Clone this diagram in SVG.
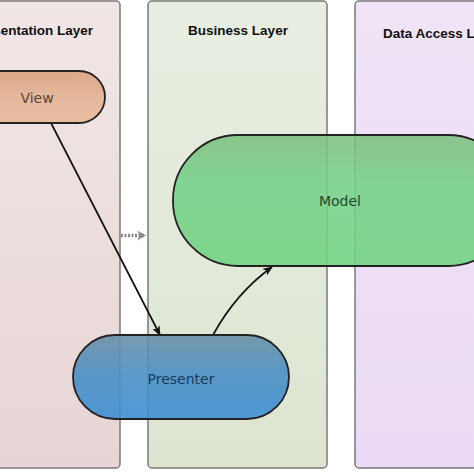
<svg xmlns="http://www.w3.org/2000/svg" width="474" height="474" viewBox="0 0 474 474">
<style>
.panel{stroke:#7a7a7a;stroke-width:1.5}
.title{font-family:"Liberation Sans",Arial,sans-serif;font-weight:bold;font-size:13.5px;fill:#111}
.lbl{font-family:"DejaVu Sans",Verdana,sans-serif;font-size:14px;text-anchor:middle}
.node{stroke:#222;stroke-width:1.8}
.conn{fill:none;stroke:#111;stroke-width:1.7}
</style>
<defs>
<linearGradient id="gP" x1="0" y1="0" x2="0" y2="1"><stop offset="0" stop-color="#f1e6e6"/><stop offset="1" stop-color="#e7d5d5"/></linearGradient>
<linearGradient id="gB" x1="0" y1="0" x2="0" y2="1"><stop offset="0" stop-color="#e8eee2"/><stop offset="1" stop-color="#dde5d1"/></linearGradient>
<linearGradient id="gD" x1="0" y1="0" x2="0" y2="1"><stop offset="0" stop-color="#f0e4f6"/><stop offset="1" stop-color="#eadaf5"/></linearGradient>
<linearGradient id="gV" x1="0" y1="0" x2="0" y2="1"><stop offset="0" stop-color="#d9a27f"/><stop offset="0.5" stop-color="#e3b394"/><stop offset="1" stop-color="#e8bb9d"/></linearGradient>
<linearGradient id="gM" x1="0" y1="0" x2="0" y2="1"><stop offset="0" stop-color="#7fbf7f"/><stop offset="0.35" stop-color="#75d089"/><stop offset="1" stop-color="#6fd480"/></linearGradient>
<linearGradient id="gR" x1="0" y1="0" x2="0" y2="1"><stop offset="0" stop-color="#6b8fa6"/><stop offset="0.45" stop-color="#4b8fc4"/><stop offset="1" stop-color="#3d8fd3"/></linearGradient>
<marker id="ah" markerWidth="10" markerHeight="8" refX="9" refY="4" orient="auto" markerUnits="userSpaceOnUse"><path d="M0,0 L10,4 L0,8 L2.5,4 Z" fill="#111"/></marker>
<marker id="gh" markerWidth="10" markerHeight="10" refX="8" refY="5" orient="auto" markerUnits="userSpaceOnUse"><path d="M0,0 L9,5 L0,10 L3,5 Z" fill="#8a8a8a"/></marker>
</defs>
<rect width="474" height="474" fill="#ffffff"/>
<g id="presentation-layer">
<rect class="panel" x="-20" y="1" width="140" height="467" rx="4" fill="url(#gP)"/>
<text class="title" x="93" y="35" text-anchor="end">Presentation Layer</text>
</g>
<g id="business-layer">
<rect class="panel" x="148" y="1" width="179" height="467" rx="4" fill="url(#gB)"/>
<text class="title" x="238" y="35" text-anchor="middle">Business Layer</text>
</g>
<g id="data-access-layer">
<rect class="panel" x="355" y="1" width="140" height="467" rx="4" fill="url(#gD)"/>
<text class="title" x="383" y="38">Data Access Layer</text>
</g>
<g id="connectors">
<path class="conn" d="M51,123 L160,335" marker-end="url(#ah)"/>
<path class="conn" d="M213,335 Q236,293 272,267" marker-end="url(#ah)"/>
<path d="M121,235.5 L145,235.5" stroke="#8a8a8a" stroke-width="3.5" stroke-dasharray="2,1.5" marker-end="url(#gh)"/>
</g>
<g id="view">
<rect class="node" x="-60" y="71" width="165" height="52" rx="26" fill="url(#gV)" fill-opacity="0.9"/>
<text class="lbl" x="37" y="103" fill="#5a4434">View</text>
</g>
<g id="model">
<rect class="node" x="173" y="135" width="340" height="131" rx="65" fill="url(#gM)" fill-opacity="0.88"/>
<text class="lbl" x="340" y="206" fill="#1f4a2c">Model</text>
</g>
<g id="presenter">
<rect class="node" x="73" y="335" width="216" height="84" rx="42" fill="url(#gR)" fill-opacity="0.9"/>
<text class="lbl" x="181" y="384" fill="#1b3a5c">Presenter</text>
</g>
</svg>
